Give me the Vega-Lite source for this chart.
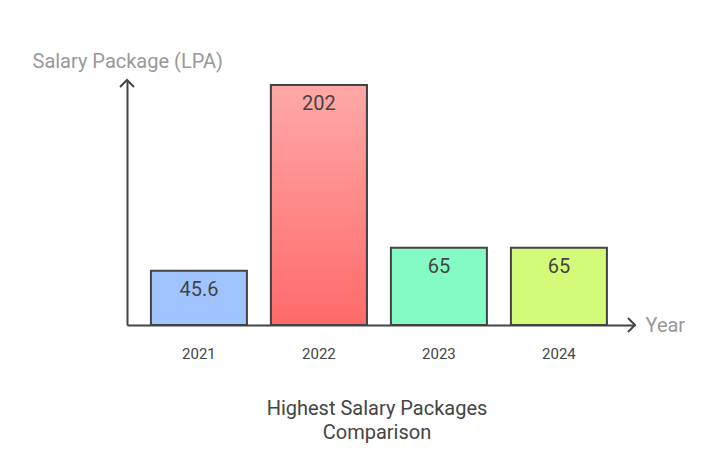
{
  "$schema": "https://vega.github.io/schema/vega-lite/v6.json",
  "autosize": "none",
  "width": 508,
  "height": 245,
  "padding": {"left": 127, "top": 80, "right": 81, "bottom": 146},
  "config": {"view": {"stroke": null}, "font": "Roboto"},
  "title": {
    "text": ["Highest Salary Packages", "Comparison"],
    "orient": "bottom",
    "anchor": "middle",
    "offset": 38,
    "fontSize": 20,
    "fontWeight": "normal",
    "color": "#444444",
    "lineHeight": 24,
    "font": "Roboto",
    "dx": -4
  },
  "data": {
    "values": [
      {"year": "2021", "salary": 45.6},
      {"year": "2022", "salary": 202},
      {"year": "2023", "salary": 65},
      {"year": "2024", "salary": 65}
    ]
  },
  "encoding": {
    "x": {
      "field": "year",
      "type": "ordinal",
      "scale": {"paddingInner": 0.2, "paddingOuter": 0.2167, "align": 0.46},
      "axis": {
        "title": "Year",
        "titleAngle": 0,
        "titleAlign": "left",
        "titleBaseline": "middle",
        "titleX": 518,
        "titleY": 0,
        "titleFontSize": 20,
        "titleFontWeight": "normal",
        "titleColor": "#999999",
        "labelAngle": 0,
        "labelFontSize": 15,
        "labelColor": "#444444",
        "labelPadding": 21,
        "ticks": false,
        "domainColor": "#444444",
        "domainWidth": 2
      }
    },
    "y": {
      "field": "salary",
      "type": "quantitative",
      "scale": {"domain": [0, 206.2], "nice": false},
      "axis": {
        "title": "Salary Package (LPA)",
        "titleAngle": 0,
        "titleAlign": "left",
        "titleBaseline": "middle",
        "titleX": -95,
        "titleY": -19,
        "titleFontSize": 20,
        "titleFontWeight": "normal",
        "titleColor": "#999999",
        "labels": false,
        "ticks": false,
        "grid": false,
        "domainColor": "#444444",
        "domainWidth": 2
      }
    }
  },
  "layer": [
    {
      "mark": {"type": "bar", "stroke": "#444444", "strokeWidth": 2},
      "encoding": {
        "fill": {
          "field": "year",
          "type": "nominal",
          "scale": {"domain": ["2021", "2022", "2023", "2024"], "range": ["#a0c4ff", "#ff8585", "#84fac4", "#d4fa7a"]},
          "legend": null
        }
      }
    },
    {
      "transform": [{"filter": "datum.year === '2022'"}],
      "mark": {
        "type": "bar",
        "stroke": "#444444",
        "strokeWidth": 2,
        "fill": {
          "gradient": "linear",
          "x1": 0, "y1": 0, "x2": 0, "y2": 1,
          "stops": [
            {"offset": 0, "color": "#ffa8a8"},
            {"offset": 1, "color": "#ff6a6a"}
          ]
        }
      }
    },
    {
      "mark": {"type": "text", "baseline": "top", "dy": 9, "fontSize": 20, "color": "#444444", "font": "Roboto"},
      "encoding": {"text": {"field": "salary", "type": "quantitative"}}
    },
    {
      "data": {"values": [{"a": 1}]},
      "mark": {"type": "point", "shape": "M-1,-1L0,0L-1,1", "size": 196, "filled": false, "stroke": "#444444", "strokeWidth": 2, "opacity": 1, "x": "width", "y": "height"},
      "encoding": {"x": null, "y": null}
    },
    {
      "data": {"values": [{"a": 1}]},
      "mark": {"type": "point", "shape": "M-1,1L0,0L1,1", "size": 196, "filled": false, "stroke": "#444444", "strokeWidth": 2, "opacity": 1, "x": 0, "y": 0},
      "encoding": {"x": null, "y": null}
    }
  ]
}
